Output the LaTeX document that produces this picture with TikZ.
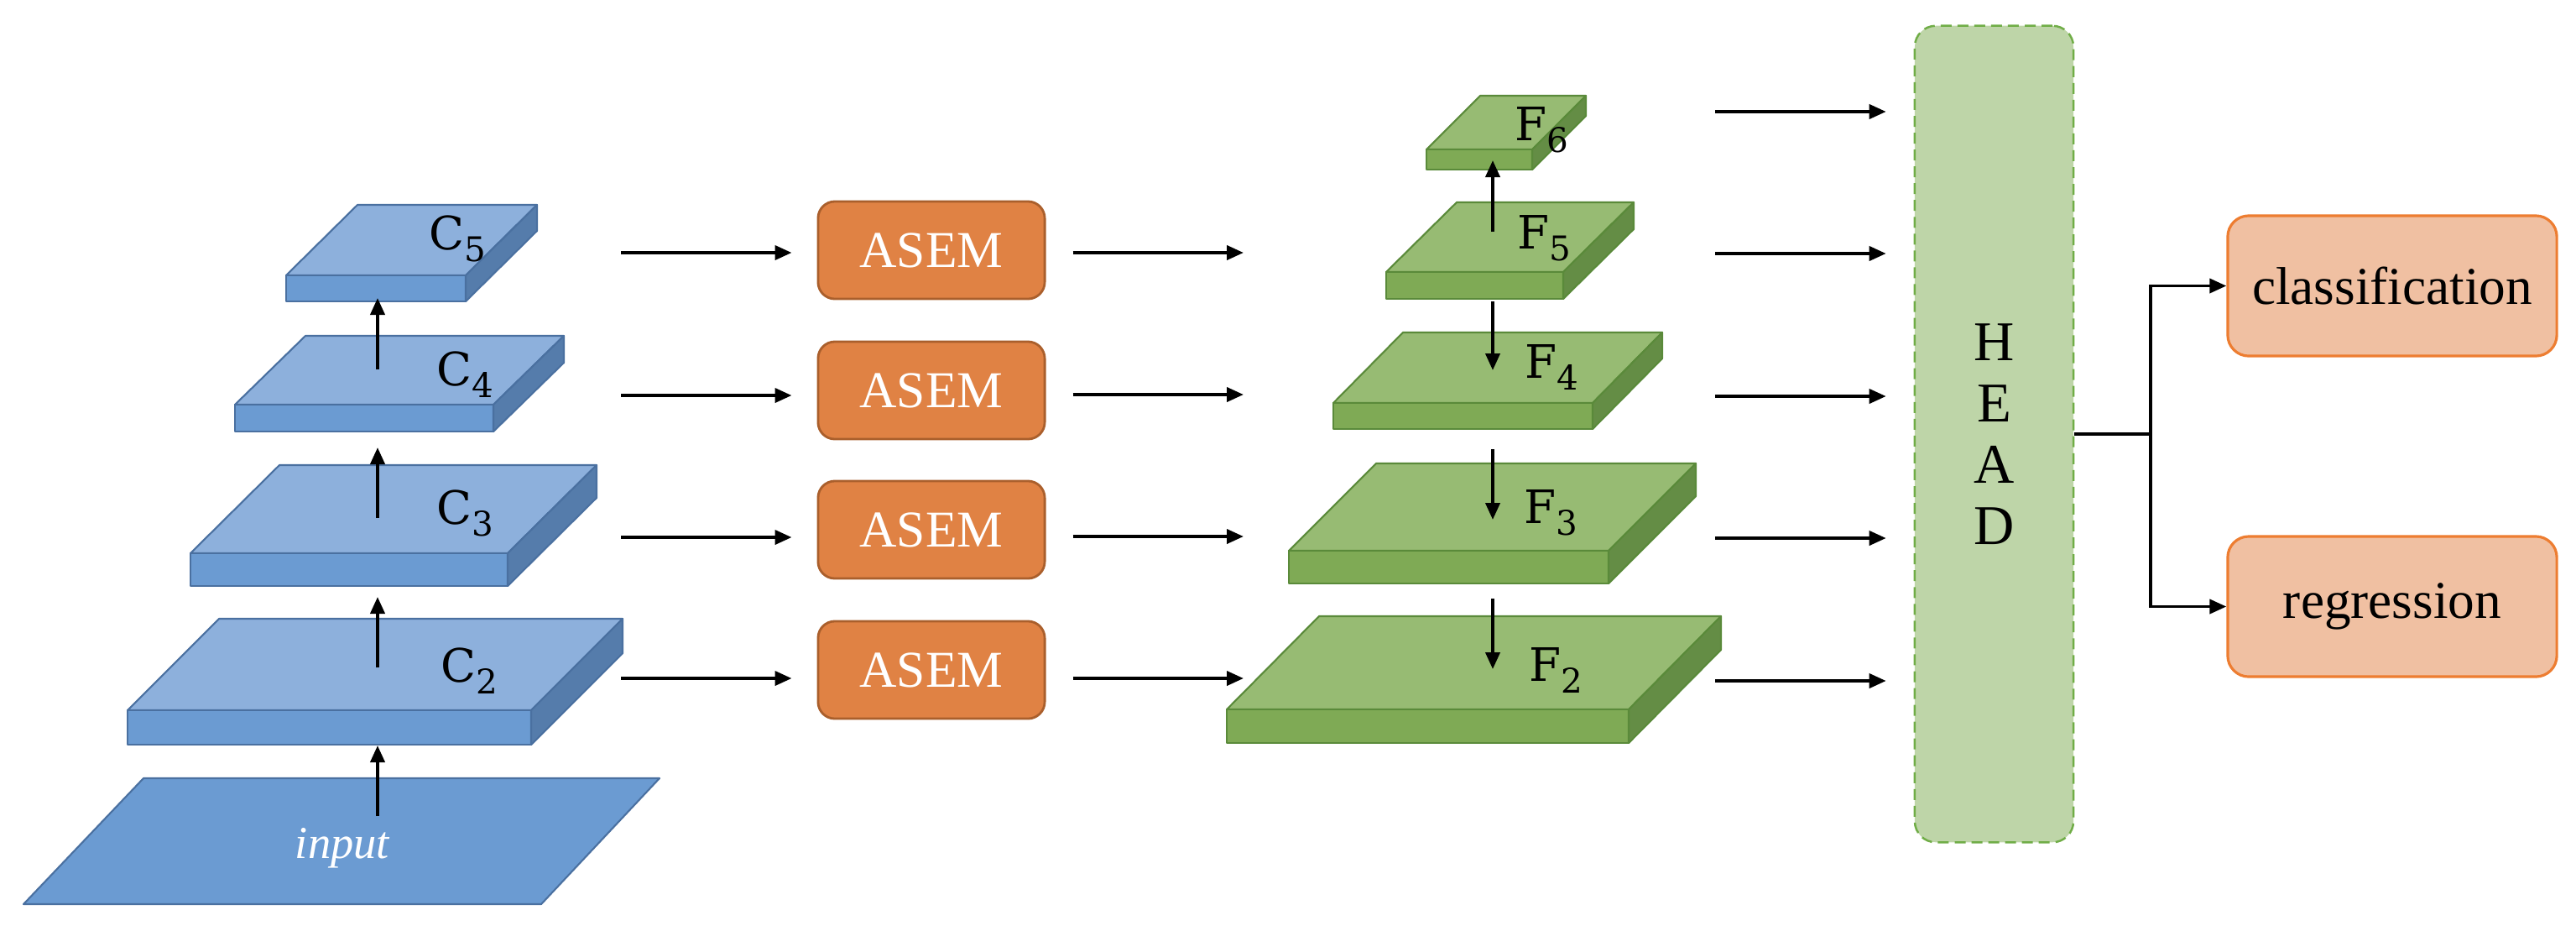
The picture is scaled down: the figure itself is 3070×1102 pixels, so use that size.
\documentclass[tikz,border=0pt]{standalone}
\usepackage{fontspec}
\setmainfont{Liberation Serif}
\newfontfamily\dvs{DejaVu Serif}
\usetikzlibrary{arrows.meta,calc}
\definecolor{btop}{HTML}{8DB0DC}
\definecolor{bfront}{HTML}{6B9BD2}
\definecolor{bside}{HTML}{557CAB}
\definecolor{bline}{HTML}{4A70A0}
\definecolor{gtop}{HTML}{97BB73}
\definecolor{gfront}{HTML}{7FAA55}
\definecolor{gside}{HTML}{648D45}
\definecolor{gline}{HTML}{5A8A3A}
\definecolor{asemfill}{HTML}{E08244}
\definecolor{asemline}{HTML}{AA5F2C}
\definecolor{headfill}{HTML}{BED5A8}
\definecolor{headline}{HTML}{70AD47}
\definecolor{outfill}{HTML}{F0C0A2}
\definecolor{outline}{HTML}{ED7D31}
% #1 x, #2 y (front top-left), #3 width, #4 depth dx, #5 depth rise, #6 thickness, #7 colour prefix
\newcommand\slab[7]{%
  \filldraw[fill=#7top,draw=#7line,line width=0.6pt,line join=round]
    (#1,#2) -- ({#1+#4},{#2-#5}) -- ({#1+#3+#4},{#2-#5}) -- ({#1+#3},#2) -- cycle;
  \filldraw[fill=#7front,draw=#7line,line width=0.6pt,line join=round]
    (#1,#2) rectangle ({#1+#3},{#2+#6});
  \filldraw[fill=#7side,draw=#7line,line width=0.6pt,line join=round]
    ({#1+#3},#2) -- ({#1+#3+#4},{#2-#5}) -- ({#1+#3+#4},{#2-#5+#6}) -- ({#1+#3},{#2+#6}) -- cycle;
}
\newcommand\lvl[2]{{\dvs\fontsize{15.6}{17}\selectfont #1\raisebox{-4pt}{\fontsize{11.5}{12}\selectfont #2}}}
\begin{document}
\begin{tikzpicture}[x=0.01cm,y=-0.01cm,
  arr/.style={-{Triangle[length=0.2cm,width=0.17cm]},line width=1.1pt},
  asem/.style={draw=asemline,fill=asemfill,line width=0.8pt,rounded corners=0.2cm,
    minimum width=2.7cm,minimum height=1.16cm,inner sep=0pt,text=white,
    font=\fontsize{17.5}{20}\selectfont},
  outbox/.style={draw=outline,fill=outfill,line width=0.9pt,rounded corners=0.25cm,
    minimum width=3.92cm,minimum height=1.67cm,inner sep=0pt,
    font=\fontsize{18}{20}\selectfont},
  headbox/.style={draw=headline,fill=headfill,line width=0.7pt,rounded corners=0.25cm,
    dash pattern=on 3.7pt off 2pt,minimum width=1.89cm,minimum height=9.72cm,
    inner sep=0pt,align=center,font=\fontsize{19}{20.8}\selectfont},
  lvlab/.style={anchor=base west,inner sep=0pt}
  ]
\useasboundingbox (0,0) rectangle (3070,1102);

% ---- backbone (blue) ----
\filldraw[fill=bfront,draw=bline,line width=0.6pt,line join=round]
  (171,927) -- (786,927) -- (645,1077) -- (28,1077) -- cycle;
\node[text=white,font=\fontsize{15.5}{17}\itshape\selectfont,inner sep=0pt] (inlab) at (408,1010) {input};
\slab{152}{846}{481}{109}{109}{41}{b}
\slab{227}{659}{378}{106}{105}{39}{b}
\slab{280}{482}{308}{84}{82}{32}{b}
\slab{341}{328}{214}{85}{84}{31}{b}
\node[lvlab] (c2lab) at (525,812) {\lvl{C}{2}};
\node[lvlab] (c3lab) at (520,624) {\lvl{C}{3}};
\node[lvlab] (c4lab) at (520,459) {\lvl{C}{4}};
\node[lvlab] (c5lab) at (511,297) {\lvl{C}{5}};

\coordinate (inT) at (450,972);  \coordinate (c2B) at (450,888);
\coordinate (c2T) at (450,795);  \coordinate (c3B) at (450,711);
\coordinate (c3T) at (450,617);  \coordinate (c4B) at (450,533);
\coordinate (c4T) at (450,440);  \coordinate (c5B) at (450,355);
\draw[arr] (inT) -- (c2B);
\draw[arr] (c2T) -- (c3B);
\draw[arr] (c3T) -- (c4B);
\draw[arr] (c4T) -- (c5B);

% ---- ASEM ----
\node[asem] (a5) at (1110,298) {ASEM};
\node[asem] (a4) at (1110,465) {ASEM};
\node[asem] (a3) at (1110,631) {ASEM};
\node[asem] (a2) at (1110,798) {ASEM};
\coordinate (c5o) at (740,301); \coordinate (f5i) at (1482,301);
\coordinate (c4o) at (740,471); \coordinate (f4i) at (1482,470);
\coordinate (c3o) at (740,640); \coordinate (f3i) at (1482,639);
\coordinate (c2o) at (740,808); \coordinate (f2i) at (1482,808);
\foreach \k in {2,3,4,5}{
  \draw[arr,shorten >=0.3cm] (c\k o) -- (c\k o -| a\k.west);
  \draw[arr,shorten <=0.32cm] (f\k i -| a\k.east) -- (f\k i);
}

% ---- FPN (green) ----
\slab{1462}{845}{479}{110}{111}{40}{g}
\slab{1536}{656}{381}{104}{104}{39}{g}
\slab{1589}{480}{309}{83}{84}{31}{g}
\slab{1652}{324}{211}{84}{83}{32}{g}
\slab{1700}{178}{126}{64}{64}{24}{g}
\node[lvlab] (f2lab) at (1822,811) {\lvl{F}{2}};
\node[lvlab] (f3lab) at (1816,623) {\lvl{F}{3}};
\node[lvlab] (f4lab) at (1817,450) {\lvl{F}{4}};
\node[lvlab] (f5lab) at (1808,296) {\lvl{F}{5}};
\node[lvlab] (f6lab) at (1805,167) {\lvl{F}{6}};

\coordinate (f5u) at (1779,276); \coordinate (f6B) at (1779,191);
\coordinate (f5d) at (1779,359); \coordinate (f4T) at (1779,441);
\coordinate (f4d) at (1779,535); \coordinate (f3T) at (1779,619);
\coordinate (f3d) at (1779,713); \coordinate (f2T) at (1779,797);
\draw[arr] (f5u) -- (f6B);
\draw[arr] (f5d) -- (f4T);
\draw[arr] (f4d) -- (f3T);
\draw[arr] (f3d) -- (f2T);

% ---- HEAD ----
\node[headbox] (head) at (2376.5,517) {H\\E\\A\\D};
\coordinate (f6o) at (2044,133);
\coordinate (f5o) at (2044,302);
\coordinate (f4o) at (2044,472);
\coordinate (f3o) at (2044,641);
\coordinate (f2o) at (2044,811);
\foreach \k in {2,...,6}{
  \draw[arr,shorten >=0.33cm] (f\k o) -- (f\k o -| head.west);
}

% ---- outputs ----
\node[outbox] (cls) at (2851,340.5) {classification};
\node[outbox] (reg) at (2851,722.5) {regression};
\coordinate (split) at (2563,517);
\draw[line width=1.1pt] (head.east |- split) -- (split);
\draw[arr] (split) |- (cls.west);
\draw[arr] (split) |- (reg.west);
\end{tikzpicture}
\end{document}
